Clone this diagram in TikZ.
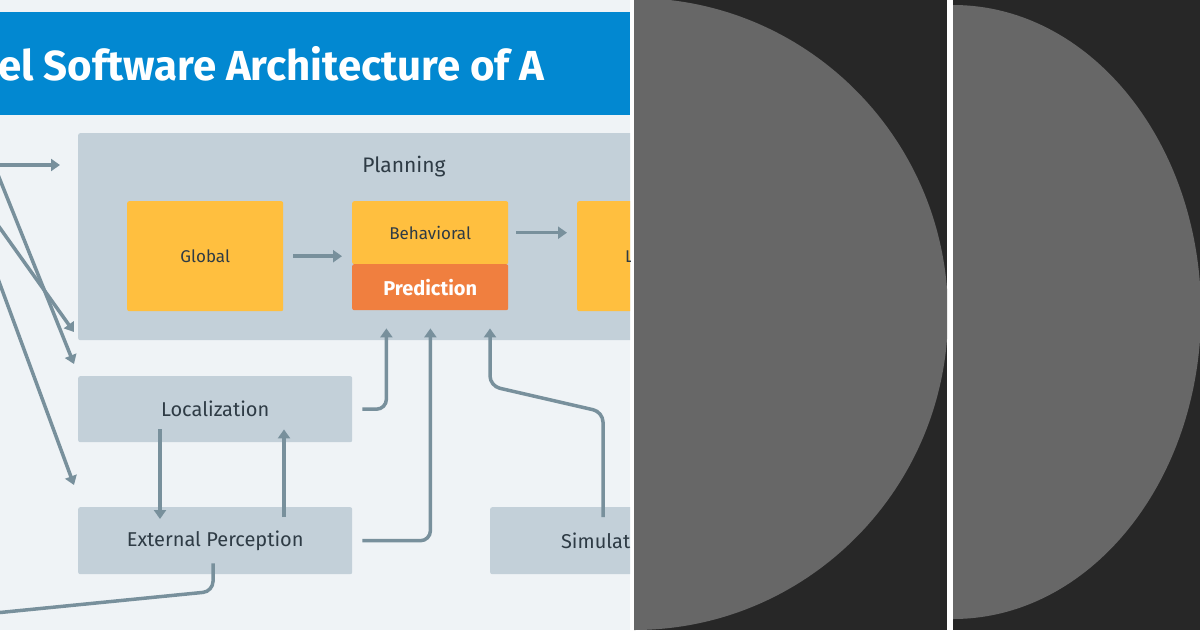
\documentclass[tikz,border=0pt]{standalone}
\usepackage{fontspec}
\setmainfont{Fira Sans}
\usetikzlibrary{arrows.meta}
\definecolor{bgc}{HTML}{EFF3F6}
\definecolor{titlec}{HTML}{0288D1}
\definecolor{panelc}{HTML}{C3D0D9}
\definecolor{yel}{HTML}{FFBF3F}
\definecolor{ora}{HTML}{F07F3F}
\definecolor{arr}{HTML}{78909C}
\definecolor{txt}{HTML}{2E3B45}
\definecolor{dark}{HTML}{272727}
\definecolor{semi}{HTML}{676767}
\tikzset{
  box/.style={fill=panelc,rounded corners=2pt,inner sep=0pt,text=txt,font=\fontsize{20}{24}\selectfont},
  ybox/.style={fill=yel,rounded corners=2pt,inner sep=0pt,text=txt,font=\fontsize{17}{20}\selectfont},
  conn/.style={draw=arr,line width=3.5pt,rounded corners=10pt,-{Triangle[length=9pt,width=12pt]}},
}
\begin{document}
\begin{tikzpicture}[x=1pt,y=-1pt]
\useasboundingbox (0,0) rectangle (1200,630);
\fill[white] (0,0) rectangle (1200,630);
\begin{scope}
\clip (0,0) rectangle (630,630);
\fill[bgc] (0,0) rectangle (630,630);
\fill[titlec] (0,12) rectangle (630,115);
\node[anchor=west,text=white,font=\fontsize{42}{48}\selectfont\bfseries,inner sep=0pt] (title) at (-2,64) {el Software Architecture of A};
\node[box,minimum width=600pt,minimum height=207pt,anchor=north west] (plan) at (78,133) {};
\node[text=txt,font=\fontsize{21}{24}\selectfont] (plant) at (404,167) {Planning};
\node[ybox,minimum width=156pt,minimum height=110pt,anchor=north west] (glob) at (127,201) {Global};
\node[ybox,minimum width=156pt,minimum height=63pt,anchor=north west] (beh) at (352,201) {Behavioral};
\node[fill=ora,inner sep=0pt,rounded corners=2pt,minimum width=156pt,minimum height=46pt,anchor=north west,text=white,font=\fontsize{20}{24}\selectfont\bfseries] (pred) at (352,264) {Prediction};
\node[ybox,minimum width=156pt,minimum height=110pt,anchor=north west] (loc) at (577,201) {\hspace*{-20pt}Local};
\node[box,minimum width=274pt,minimum height=66pt,anchor=north west] (lz) at (78,376) {Localization};
\node[box,minimum width=274pt,minimum height=67pt,anchor=north west] (ep) at (78,507) {External Perception};
\node[box,minimum width=240pt,minimum height=67pt,anchor=north west] (sim) at (490,507) {Simulation};
\coordinate (in1) at (-5,165);
\draw[conn] (in1) -- (60,165);
\coordinate (d1) at (-20,130);
\coordinate (d2) at (-20,200);
\coordinate (d3) at (-20,230);
\draw[conn] (d1) -- ([xshift=-4pt,yshift=12pt]lz.north west);
\draw[conn] (d2) -- ([xshift=-4pt,yshift=44pt]lz.north west);
\draw[conn] (d3) -- ([xshift=-4pt,yshift=22pt]ep.north west);
\draw[conn] ([xshift=10pt]glob.east) -- ([xshift=-10pt]glob.east -| beh.west);
\draw[conn] ([xshift=8pt]beh.east) -- ([xshift=-10pt]beh.east -| loc.west);
\draw[conn] ([xshift=82pt,yshift=13pt]lz.south west) -- ([xshift=82pt,yshift=-12pt]ep.north west);
\draw[conn] ([xshift=206pt,yshift=-10pt]ep.north west) -- ([xshift=206pt,yshift=13pt]lz.south west);
\draw[conn] ([xshift=10pt]lz.east) -- ++(24,0) -- ([xshift=34pt,yshift=12pt]plan.south -| lz.east);
\draw[conn] ([xshift=10pt]ep.east) -- ++(68,0) -- ([xshift=78pt,yshift=12pt]plan.south -| ep.east);
\draw[conn] ([xshift=113pt,yshift=-10pt]sim.north west) -- ++(0,-105) -- ([yshift=-10pt]sim.north west |- lz.north) -- ([yshift=-18pt]pred.south -| sim.west);
\draw[draw=arr,line width=3.5pt,rounded corners=10pt] ([xshift=135pt,yshift=11pt]ep.south west) -- ++(0,28) -- (-5,613);
\end{scope}
\fill[dark] (634,0) rectangle (947,630);
\begin{scope}
\clip (634,0) rectangle (947,630);
\fill[semi] (634,314) ellipse [x radius=314, y radius=316];
\end{scope}
\fill[dark] (953,0) rectangle (1200,630);
\begin{scope}
\clip (953,0) rectangle (1200,630);
\fill[semi] (953,312) ellipse [x radius=248, y radius=307];
\end{scope}
\end{tikzpicture}
\end{document}
